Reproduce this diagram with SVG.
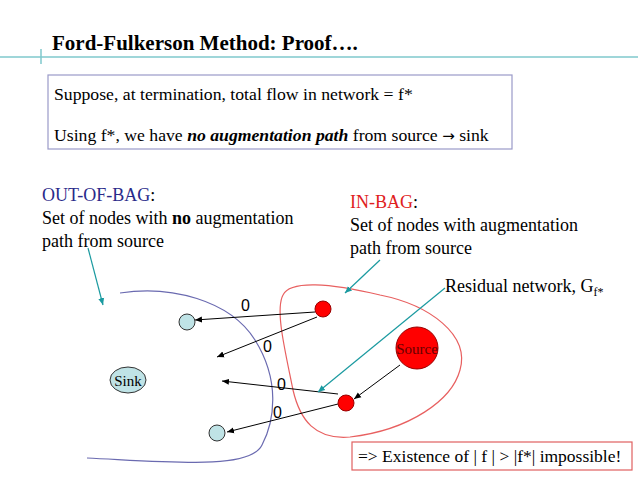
<svg xmlns="http://www.w3.org/2000/svg" width="638" height="478" viewBox="0 0 638 478">
<defs>
<marker id="ah" markerWidth="8" markerHeight="8" refX="7" refY="4" orient="auto" markerUnits="userSpaceOnUse"><path d="M0,1 L7,4 L0,7 Z" fill="#000"/></marker>
<marker id="at" markerWidth="8" markerHeight="8" refX="7" refY="4" orient="auto" markerUnits="userSpaceOnUse"><path d="M0,1 L7,4 L0,7 Z" fill="#1a9aa0"/></marker>
<style>
text{font-family:"Liberation Serif","Times New Roman",serif;fill:#000}
.s{font-size:18px}
.z{font-family:"Liberation Sans",Arial,sans-serif;font-size:16px}
.e{stroke:#000;stroke-width:1;fill:none;marker-end:url(#ah)}
.t{stroke:#1a9aa0;stroke-width:1.2;fill:none;marker-end:url(#at)}
.cy{fill:#bfe3e6;stroke:#333;stroke-width:1}
.rd{fill:#f00;stroke:#900;stroke-width:1}
</style>
</defs>
<line x1="0" y1="57" x2="638" y2="57" stroke="#7fc8cc" stroke-width="1.5"/>
<line x1="41" y1="49" x2="41" y2="64" stroke="#7fc8cc" stroke-width="1.5"/>
<text x="52" y="50" style="font-size:21px;font-weight:bold">Ford-Fulkerson Method: Proof….</text>
<g id="premise">
<rect x="48" y="75" width="464" height="74" fill="#fff" stroke="#9a9ac8" stroke-width="1.2"/>
<text x="54" y="100" style="font-size:17.7px">Suppose, at termination, total flow in network = f*</text>
<text x="54" y="141" style="font-size:17.7px">Using f*, we have <tspan font-weight="bold" font-style="italic">no augmentation path</tspan> from source <tspan font-family="DejaVu Sans" font-size="15">→</tspan> sink</text>
</g>
<g id="outbag-label">
<text class="s" x="42" y="201" style="fill:#2a2a8a">OUT-OF-BAG<tspan fill="#000">:</tspan></text>
<text class="s" x="42" y="224">Set of nodes with <tspan font-weight="bold">no</tspan> augmentation</text>
<text class="s" x="42" y="247">path from source</text>
</g>
<g id="inbag-label">
<text class="s" x="350" y="208" style="fill:#e02020">IN-BAG<tspan fill="#000">:</tspan></text>
<text class="s" x="350" y="231">Set of nodes with augmentation</text>
<text class="s" x="350" y="254">path from source</text>
</g>
<text class="s" x="445" y="292">Residual network, G<tspan font-size="12" dy="4">f*</tspan></text>
<g id="regions">
<path d="M120,293 C170,285 230,300 255,340 C280,380 275,420 262,445 C250,470 170,462 87,458" fill="none" stroke="#6a6ab0" stroke-width="1.2"/>
<path d="M283,295 C290,280 330,283 380,295 C430,305 470,335 460,370 C452,400 410,430 350,437 C315,440 300,420 293,390 C285,350 275,310 283,295 Z" fill="none" stroke="#e86060" stroke-width="1.2"/>
</g>
<g id="connectors">
<line class="e" x1="315" y1="312" x2="195" y2="320"/>
<line class="e" x1="317" y1="317" x2="217" y2="357"/>
<line class="e" x1="338" y1="394" x2="222" y2="381"/>
<line class="e" x1="338" y1="404" x2="227" y2="432"/>
<line class="e" x1="400" y1="365" x2="354" y2="399"/>
<line class="t" x1="88" y1="248" x2="103" y2="305"/>
<line class="t" x1="380" y1="260" x2="345" y2="293"/>
<line class="t" x1="445" y1="288" x2="318" y2="392"/>
<text class="z" x="241" y="311">0</text>
<text class="z" x="263" y="352">0</text>
<text class="z" x="277" y="390">0</text>
<text class="z" x="273" y="418">0</text>
</g>
<g id="n1"><circle class="rd" cx="323" cy="309" r="8"/></g>
<g id="n2"><circle class="cy" cx="187" cy="322" r="8"/></g>
<g id="source"><circle class="rd" cx="417" cy="348" r="21"/><text x="417" y="354" text-anchor="middle" style="font-size:15px;fill:#600">Source</text></g>
<g id="n3"><circle class="rd" cx="346" cy="403" r="8"/></g>
<g id="n4"><circle class="cy" cx="217" cy="433" r="8"/></g>
<g id="sink"><ellipse class="cy" cx="128" cy="380" rx="18" ry="13"/><text x="128" y="386" text-anchor="middle" style="font-size:15px">Sink</text></g>
<g id="conclusion">
<rect x="352" y="442" width="280" height="28" fill="#fff" stroke="#e06060" stroke-width="1.2"/>
<text x="358" y="462" style="font-size:17.5px">=&gt; Existence of | f | &gt; |f*| impossible!</text>
</g>
</svg>
